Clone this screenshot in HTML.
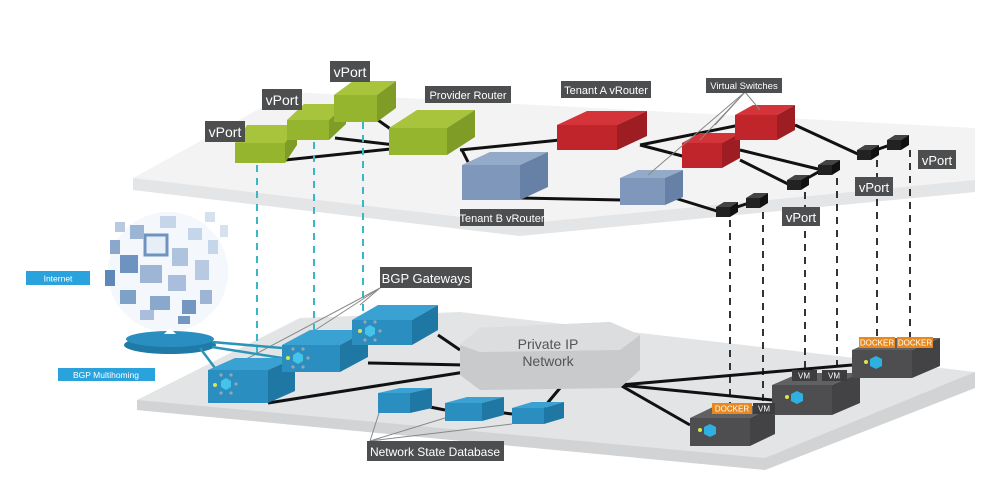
<!DOCTYPE html>
<html><head><meta charset="utf-8"><style>
html,body{margin:0;padding:0;background:#fff}
svg{display:block;font-family:"Liberation Sans",sans-serif}
</style></head><body>
<svg width="1000" height="485" viewBox="0 0 1000 485" xmlns="http://www.w3.org/2000/svg">
<!-- planes -->
<polygon points="133,178 290,92 975,128 975,192 520,236 133,190" fill="#f3f3f4"/>
<polygon points="133,178 520,224 975,180 975,192 520,236 133,190" fill="#e4e5e6"/>
<polygon points="137,400 300,318 460,312 975,372 975,388 765,470 137,410" fill="#e3e4e5"/>
<polygon points="137,400 765,458 975,372 975,388 765,470 137,410" fill="#d2d3d4"/>

<!-- top lines -->
<g stroke="#111" stroke-width="3" fill="none">
<line x1="285" y1="160" x2="400" y2="148"/>
<line x1="335" y1="138" x2="395" y2="145"/>
<line x1="375" y1="118" x2="392" y2="130"/>
<line x1="460" y1="150" x2="560" y2="140"/>
<line x1="462" y1="150" x2="468" y2="162"/>
<line x1="520" y1="198" x2="622" y2="200"/>
<line x1="640" y1="145" x2="690" y2="158"/>
<line x1="640" y1="145" x2="740" y2="125"/>
<line x1="665" y1="195" x2="720" y2="212"/>
<line x1="722" y1="212" x2="752" y2="202"/>
<line x1="740" y1="160" x2="790" y2="185"/>
<line x1="740" y1="150" x2="822" y2="170"/>
<line x1="795" y1="125" x2="860" y2="155"/>
<line x1="870" y1="152" x2="890" y2="145"/>
<line x1="795" y1="185" x2="822" y2="170"/>
</g>

<!-- dashed verticals -->
<g stroke="#3bb5c8" stroke-width="2" stroke-dasharray="7,6">
<line x1="257" y1="165" x2="257" y2="360"/>
<line x1="314" y1="142" x2="314" y2="335"/>
<line x1="363" y1="122" x2="363" y2="315"/>
</g>
<g stroke="#333" stroke-width="2" stroke-dasharray="7,6">
<line x1="730" y1="220" x2="730" y2="405"/>
<line x1="763" y1="212" x2="763" y2="405"/>
<line x1="805" y1="192" x2="805" y2="372"/>
<line x1="837" y1="178" x2="837" y2="372"/>
<line x1="877" y1="160" x2="877" y2="338"/>
<line x1="910" y1="150" x2="910" y2="338"/>
</g>

<!-- green boxes -->
<g>
<polygon points="235,143 247,125 297,125 285,143" fill="#a8c43c"/><rect x="235" y="143" width="50" height="20" fill="#95b52e"/><polygon points="285,143 297,125 297,145 285,163" fill="#7f9c26"/>
<polygon points="287,120 304,104 346,104 329,120" fill="#a8c43c"/><rect x="287" y="120" width="42" height="20" fill="#95b52e"/><polygon points="329,120 346,104 346,124 329,140" fill="#7f9c26"/>
<polygon points="334,95 353,81 396,81 377,95" fill="#a8c43c"/><rect x="334" y="95" width="43" height="27" fill="#95b52e"/><polygon points="377,95 396,81 396,108 377,122" fill="#7f9c26"/>
<polygon points="389,128 417,110 475,110 447,128" fill="#a8c43c"/><rect x="389" y="128" width="58" height="27" fill="#95b52e"/><polygon points="447,128 475,110 475,137 447,155" fill="#7f9c26"/>
</g>
<!-- red -->
<g>
<polygon points="557,125 587,111 647,111 617,125" fill="#d4333a"/><rect x="557" y="125" width="60" height="25" fill="#c1252c"/><polygon points="617,125 647,111 647,136 617,150" fill="#9e1d22"/>
<polygon points="682,143 700,133 740,133 722,143" fill="#d4333a"/><rect x="682" y="143" width="40" height="25" fill="#c1252c"/><polygon points="722,143 740,133 740,158 722,168" fill="#9e1d22"/>
<polygon points="735,115 753,105 795,105 777,115" fill="#d4333a"/><rect x="735" y="115" width="42" height="25" fill="#c1252c"/><polygon points="777,115 795,105 795,130 777,140" fill="#9e1d22"/>
</g>
<!-- blue-gray -->
<g>
<polygon points="462,165 490,152 548,152 520,165" fill="#93aac8"/><rect x="462" y="165" width="58" height="35" fill="#7e97bb"/><polygon points="520,165 548,152 548,187 520,200" fill="#6680a6"/>
<polygon points="620,178 638,170 683,170 665,178" fill="#93aac8"/><rect x="620" y="178" width="45" height="27" fill="#7e97bb"/><polygon points="665,178 683,170 683,197 665,205" fill="#6680a6"/>
</g>
<!-- black small switches -->
<g>
<g transform="translate(716,207)"><polygon points="0,0 8,-5 22,-5 14,0" fill="#444"/><rect width="14" height="10" fill="#222"/><polygon points="14,0 22,-5 22,5 14,10" fill="#111"/></g>
<g transform="translate(746,198)"><polygon points="0,0 8,-5 22,-5 14,0" fill="#444"/><rect width="14" height="10" fill="#222"/><polygon points="14,0 22,-5 22,5 14,10" fill="#111"/></g>
<g transform="translate(787,180)"><polygon points="0,0 8,-5 22,-5 14,0" fill="#444"/><rect width="14" height="10" fill="#222"/><polygon points="14,0 22,-5 22,5 14,10" fill="#111"/></g>
<g transform="translate(818,165)"><polygon points="0,0 8,-5 22,-5 14,0" fill="#444"/><rect width="14" height="10" fill="#222"/><polygon points="14,0 22,-5 22,5 14,10" fill="#111"/></g>
<g transform="translate(857,150)"><polygon points="0,0 8,-5 22,-5 14,0" fill="#444"/><rect width="14" height="10" fill="#222"/><polygon points="14,0 22,-5 22,5 14,10" fill="#111"/></g>
<g transform="translate(887,140)"><polygon points="0,0 8,-5 22,-5 14,0" fill="#444"/><rect width="14" height="10" fill="#222"/><polygon points="14,0 22,-5 22,5 14,10" fill="#111"/></g>
</g>

<!-- label leader lines -->
<g stroke="#888" stroke-width="1">
<line x1="745" y1="92" x2="700" y2="140"/><line x1="745" y1="92" x2="715" y2="125"/><line x1="745" y1="92" x2="648" y2="175"/><line x1="745" y1="92" x2="760" y2="110"/>
<line x1="380" y1="288" x2="235" y2="365"/><line x1="380" y1="288" x2="300" y2="340"/><line x1="380" y1="288" x2="360" y2="305"/>
<line x1="370" y1="441" x2="380" y2="410"/><line x1="370" y1="441" x2="445" y2="418"/><line x1="370" y1="441" x2="512" y2="424"/>
</g>

<!-- globe -->
<g>
<circle cx="168" cy="272" r="60" fill="#f4f7fb"/>
<g>
<rect x="145" y="235" width="22" height="20" fill="#e6eef8" stroke="#6f93bf" stroke-width="3"/>
<rect x="120" y="255" width="18" height="18" fill="#6f93c0"/><rect x="172" y="248" width="16" height="18" fill="#aec3dd"/>
<rect x="140" y="265" width="22" height="18" fill="#9db6d6"/><rect x="168" y="275" width="18" height="16" fill="#a9bedc"/>
<rect x="120" y="290" width="16" height="14" fill="#7ea1c8"/><rect x="150" y="296" width="20" height="14" fill="#8aa8cc"/>
<rect x="182" y="300" width="14" height="14" fill="#7497c2"/><rect x="195" y="260" width="14" height="20" fill="#b7cae2"/>
<rect x="130" y="225" width="14" height="14" fill="#9cb5d5"/><rect x="160" y="216" width="16" height="12" fill="#c6d6ea"/>
<rect x="105" y="270" width="10" height="16" fill="#5e88b8"/><rect x="200" y="290" width="12" height="14" fill="#9cb5d5"/>
<rect x="110" y="240" width="10" height="14" fill="#8aa8cc"/><rect x="188" y="228" width="14" height="12" fill="#c6d6ea"/>
<rect x="205" y="212" width="10" height="10" fill="#d6e1ee"/><rect x="220" y="225" width="8" height="12" fill="#d6e1ee"/>
<rect x="140" y="310" width="14" height="10" fill="#a9bedc"/><rect x="208" y="240" width="10" height="14" fill="#c6d6ea"/>
<rect x="178" y="316" width="12" height="8" fill="#7497c2"/><rect x="115" y="222" width="10" height="10" fill="#b7cae2"/>
</g>
<ellipse cx="170" cy="345" rx="46" ry="9" fill="#1f7aa8"/>
<ellipse cx="170" cy="339" rx="44" ry="8" fill="#2a8fc0"/>
<polygon points="170,328 176,334 164,334" fill="#fff"/>
</g>
<g stroke="#2a95b8" stroke-width="2.5" fill="none">
<line x1="212" y1="342" x2="282" y2="348"/><line x1="212" y1="347" x2="282" y2="358"/><line x1="200" y1="348" x2="215" y2="368"/>
</g>

<!-- bottom lines -->
<g stroke="#111" stroke-width="3" fill="none">
<line x1="268" y1="403" x2="465" y2="372"/>
<line x1="368" y1="363" x2="465" y2="365"/>
<line x1="438" y1="335" x2="460" y2="350"/>
<line x1="410" y1="403" x2="445" y2="410"/>
<line x1="482" y1="410" x2="512" y2="414"/>
<line x1="540" y1="412" x2="560" y2="388"/>
<line x1="620" y1="385" x2="690" y2="425"/>
<line x1="620" y1="385" x2="772" y2="400"/>
<line x1="620" y1="385" x2="852" y2="365"/>
</g>

<!-- private ip network -->
<polygon points="460,345 480,328 610,322 640,335 640,370 620,388 480,390 460,375" fill="#c9cacc"/>
<polygon points="460,345 480,328 610,322 640,335 620,350 480,352" fill="#dcdddf"/>
<text x="548" y="349" font-size="14" fill="#555" text-anchor="middle">Private IP</text>
<text x="548" y="366" font-size="14" fill="#555" text-anchor="middle">Network</text>

<!-- gateways -->
<g>
<polygon points="208,370 235,358 295,358 268,370" fill="#3aa2d2"/><rect x="208" y="370" width="60" height="33" fill="#2a8fc0"/><polygon points="268,370 295,358 295,391 268,403" fill="#1f77a4"/>
<polygon points="282,345 310,330 368,330 340,345" fill="#3aa2d2"/><rect x="282" y="345" width="58" height="27" fill="#2a8fc0"/><polygon points="340,345 368,330 368,357 340,372" fill="#1f77a4"/>
<polygon points="352,320 378,305 438,305 412,320" fill="#3aa2d2"/><rect x="352" y="320" width="60" height="25" fill="#2a8fc0"/><polygon points="412,320 438,305 438,330 412,345" fill="#1f77a4"/>
</g>
<g fill="#46c3e8"><polygon points="226,378 231,381 231,387 226,390 221,387 221,381"/><polygon points="298,352 303,355 303,361 298,364 293,361 293,355"/><polygon points="370,325 375,328 375,334 370,337 365,334 365,328"/></g>
<g fill="#9aa5ad"><circle cx="221" cy="375" r="1.6"/><circle cx="231" cy="375" r="1.6"/><circle cx="221" cy="393" r="1.6"/><circle cx="231" cy="393" r="1.6"/><circle cx="236" cy="384" r="1.6"/>
<circle cx="293" cy="349" r="1.6"/><circle cx="303" cy="349" r="1.6"/><circle cx="293" cy="367" r="1.6"/><circle cx="303" cy="367" r="1.6"/><circle cx="308" cy="358" r="1.6"/>
<circle cx="365" cy="322" r="1.6"/><circle cx="375" cy="322" r="1.6"/><circle cx="365" cy="340" r="1.6"/><circle cx="375" cy="340" r="1.6"/><circle cx="380" cy="331" r="1.6"/></g>
<g fill="#d8e84a"><circle cx="215" cy="385" r="2"/><circle cx="288" cy="358" r="2"/><circle cx="360" cy="331" r="2"/></g>
<!-- db -->
<g>
<polygon points="378,393 400,388 432,388 410,393" fill="#3aa2d2"/><rect x="378" y="393" width="32" height="20" fill="#2a8fc0"/><polygon points="410,393 432,388 432,408 410,413" fill="#1f77a4"/>
<polygon points="445,403 467,397 504,397 482,403" fill="#3aa2d2"/><rect x="445" y="403" width="37" height="18" fill="#2a8fc0"/><polygon points="482,403 504,397 504,415 482,421" fill="#1f77a4"/>
<polygon points="512,408 532,402 564,402 544,408" fill="#3aa2d2"/><rect x="512" y="408" width="32" height="16" fill="#2a8fc0"/><polygon points="544,408 564,402 564,418 544,424" fill="#1f77a4"/>
</g>
<!-- servers -->
<g>
<polygon points="690,418 715,406 775,406 750,418" fill="#616163"/><rect x="690" y="418" width="60" height="28" fill="#4e4e50"/><polygon points="750,418 775,406 775,434 750,446" fill="#434345"/>
<polygon points="772,385 800,373 860,373 832,385" fill="#616163"/><rect x="772" y="385" width="60" height="30" fill="#4e4e50"/><polygon points="832,385 860,373 860,403 832,415" fill="#434345"/>
<polygon points="852,350 880,338 940,338 912,350" fill="#616163"/><rect x="852" y="350" width="60" height="28" fill="#4e4e50"/><polygon points="912,350 940,338 940,366 912,378" fill="#434345"/>
</g>
<g fill="#2eb0e0"><polygon points="710,424 716,427 716,434 710,437 704,434 704,427"/><polygon points="797,391 803,394 803,401 797,404 791,401 791,394"/><polygon points="876,356 882,359 882,366 876,369 870,366 870,359"/></g>
<g fill="#d8e84a"><circle cx="700" cy="430" r="2"/><circle cx="787" cy="397" r="2"/><circle cx="866" cy="362" r="2"/></g>
<g font-size="8" fill="#fff" text-anchor="middle">
<rect x="712" y="403" width="40" height="11" fill="#e8891e"/><text x="732" y="411.5">DOCKER</text>
<rect x="753" y="403" width="22" height="11" fill="#3d3d3f"/><text x="764" y="411.5">VM</text>
<rect x="792" y="370" width="25" height="11" fill="#3d3d3f"/><text x="804" y="378.5">VM</text>
<rect x="822" y="370" width="25" height="11" fill="#3d3d3f"/><text x="834" y="378.5">VM</text>
<rect x="859" y="337" width="36" height="11" fill="#e8891e"/><text x="877" y="345.5">DOCKER</text>
<rect x="897" y="337" width="36" height="11" fill="#e8891e"/><text x="915" y="345.5">DOCKER</text>
</g>

<!-- labels -->
<g fill="#4d4e50">
<rect x="205" y="121" width="40" height="21"/><rect x="262" y="89" width="40" height="21"/><rect x="330" y="61" width="40" height="21"/>
<rect x="425" y="86" width="86" height="17"/><rect x="561" y="81" width="90" height="17"/><rect x="706" y="78" width="76" height="15"/>
<rect x="460" y="209" width="84" height="17"/>
<rect x="918" y="150" width="38" height="19"/><rect x="855" y="177" width="38" height="19"/><rect x="782" y="207" width="38" height="19"/>
<rect x="380" y="267" width="92" height="21"/><rect x="367" y="441" width="137" height="20"/>
</g>
<g fill="#fff">
<text x="225" y="137" font-size="14" text-anchor="middle">vPort</text>
<text x="282" y="105" font-size="14" text-anchor="middle">vPort</text>
<text x="350" y="77" font-size="14" text-anchor="middle">vPort</text>
<text x="468" y="99" font-size="11" text-anchor="middle">Provider Router</text>
<text x="606" y="94" font-size="11" text-anchor="middle">Tenant A vRouter</text>
<text x="744" y="89" font-size="9.5" text-anchor="middle">Virtual Switches</text>
<text x="502" y="222" font-size="11" text-anchor="middle">Tenant B vRouter</text>
<text x="937" y="165" font-size="13" text-anchor="middle">vPort</text>
<text x="874" y="192" font-size="13" text-anchor="middle">vPort</text>
<text x="801" y="222" font-size="13" text-anchor="middle">vPort</text>
<text x="426" y="283" font-size="13" text-anchor="middle">BGP Gateways</text>
<text x="435" y="456" font-size="12" text-anchor="middle">Network State Database</text>
</g>
<rect x="26" y="271" width="64" height="14" fill="#2aa3dc"/>
<text x="58" y="281.5" font-size="8.5" fill="#fff" text-anchor="middle">Internet</text>
<rect x="58" y="368" width="97" height="13" fill="#2aa3dc"/>
<text x="106" y="378" font-size="8.5" fill="#fff" text-anchor="middle">BGP Multihoming</text>
</svg>
</body></html>
